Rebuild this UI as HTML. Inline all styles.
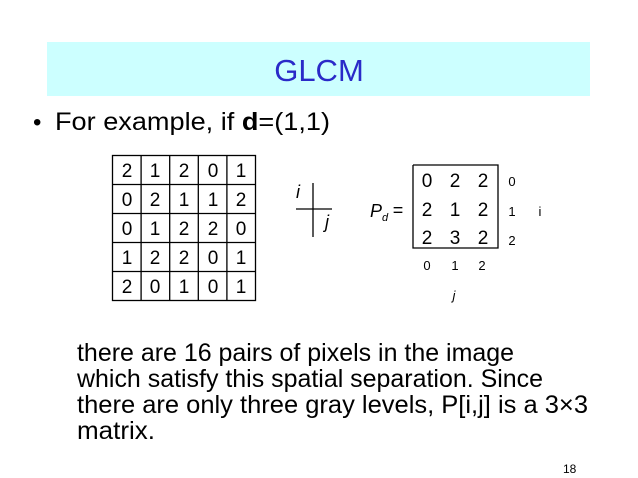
<!DOCTYPE html>
<html><head><style>
html,body{margin:0;padding:0;background:#fff;}
svg{display:block;}
text{font-family:"Liberation Sans",Arial,sans-serif;}
</style></head><body>
<svg width="638" height="478" viewBox="0 0 638 478" xmlns="http://www.w3.org/2000/svg">
<rect x="0" y="0" width="638" height="478" fill="#fff"/>
<rect x="47" y="42" width="543" height="54" fill="#ccffff"/>
<text x="319" y="81" font-size="31" fill="#2a2ac8" text-anchor="middle">GLCM</text>
<text x="33" y="130" font-size="24" fill="#000">•</text>
<text x="55" y="130" font-size="25" fill="#000" textLength="275" lengthAdjust="spacingAndGlyphs">For example, if <tspan font-weight="bold">d</tspan>=(1,1)</text>

<g stroke="#000" stroke-width="1.3" fill="none">
<rect x="112.5" y="155.5" width="143" height="145"/>
<line x1="141.1" y1="155" x2="141.1" y2="301"/>
<line x1="169.7" y1="155" x2="169.7" y2="301"/>
<line x1="198.3" y1="155" x2="198.3" y2="301"/>
<line x1="226.9" y1="155" x2="226.9" y2="301"/>
<line x1="112" y1="184.5" x2="256" y2="184.5"/>
<line x1="112" y1="213.5" x2="256" y2="213.5"/>
<line x1="112" y1="242.5" x2="256" y2="242.5"/>
<line x1="112" y1="271.5" x2="256" y2="271.5"/>
<line x1="313" y1="183" x2="313" y2="237"/>
<line x1="296" y1="209" x2="332" y2="209"/>
<polyline points="413,165 413,248 498,248 498,165 413,165"/>
</g>
<g font-size="19" fill="#000" text-anchor="middle">
<text x="127" y="177">2</text><text x="155" y="177">1</text><text x="184" y="177">2</text><text x="213" y="177">0</text><text x="241" y="177">1</text>
<text x="127" y="206">0</text><text x="155" y="206">2</text><text x="184" y="206">1</text><text x="213" y="206">1</text><text x="241" y="206">2</text>
<text x="127" y="235">0</text><text x="155" y="235">1</text><text x="184" y="235">2</text><text x="213" y="235">2</text><text x="241" y="235">0</text>
<text x="127" y="264">1</text><text x="155" y="264">2</text><text x="184" y="264">2</text><text x="213" y="264">0</text><text x="241" y="264">1</text>
<text x="127" y="293">2</text><text x="155" y="293">0</text><text x="184" y="293">1</text><text x="213" y="293">0</text><text x="241" y="293">1</text>
<text x="427" y="187">0</text><text x="455" y="187">2</text><text x="483" y="187">2</text>
<text x="427" y="216">2</text><text x="455" y="216">1</text><text x="483" y="216">2</text>
<text x="427" y="244">2</text><text x="455" y="244">3</text><text x="483" y="244">2</text>
</g>
<text x="298" y="198" font-size="18" font-style="italic" text-anchor="middle">i</text>
<text x="327" y="228" font-size="18" font-style="italic" text-anchor="middle">j</text>
<text x="370" y="217" font-size="18" font-style="italic">P<tspan font-size="11" dy="4">d</tspan></text>
<text x="398" y="216" font-size="18" text-anchor="middle">=</text>
<g font-size="13" text-anchor="middle">
<text x="512" y="186">0</text><text x="512" y="216">1</text><text x="512" y="245">2</text>
<text x="540" y="216">i</text>
<text x="427" y="270">0</text><text x="455" y="270">1</text><text x="482" y="270">2</text>
<text x="454" y="300" font-style="italic">j</text>
</g>
<g font-size="25" fill="#000">
<text x="77" y="361" textLength="437" lengthAdjust="spacingAndGlyphs">there are 16 pairs of pixels in the image</text>
<text x="77" y="387" textLength="466" lengthAdjust="spacingAndGlyphs">which satisfy this spatial separation. Since</text>
<text x="77" y="413" textLength="511" lengthAdjust="spacingAndGlyphs">there are only three gray levels, P[i,j] is a 3×3</text>
<text x="77" y="439" textLength="78" lengthAdjust="spacingAndGlyphs">matrix.</text>
</g>
<text x="563" y="473" font-size="12">18</text>
</svg>
</body></html>
